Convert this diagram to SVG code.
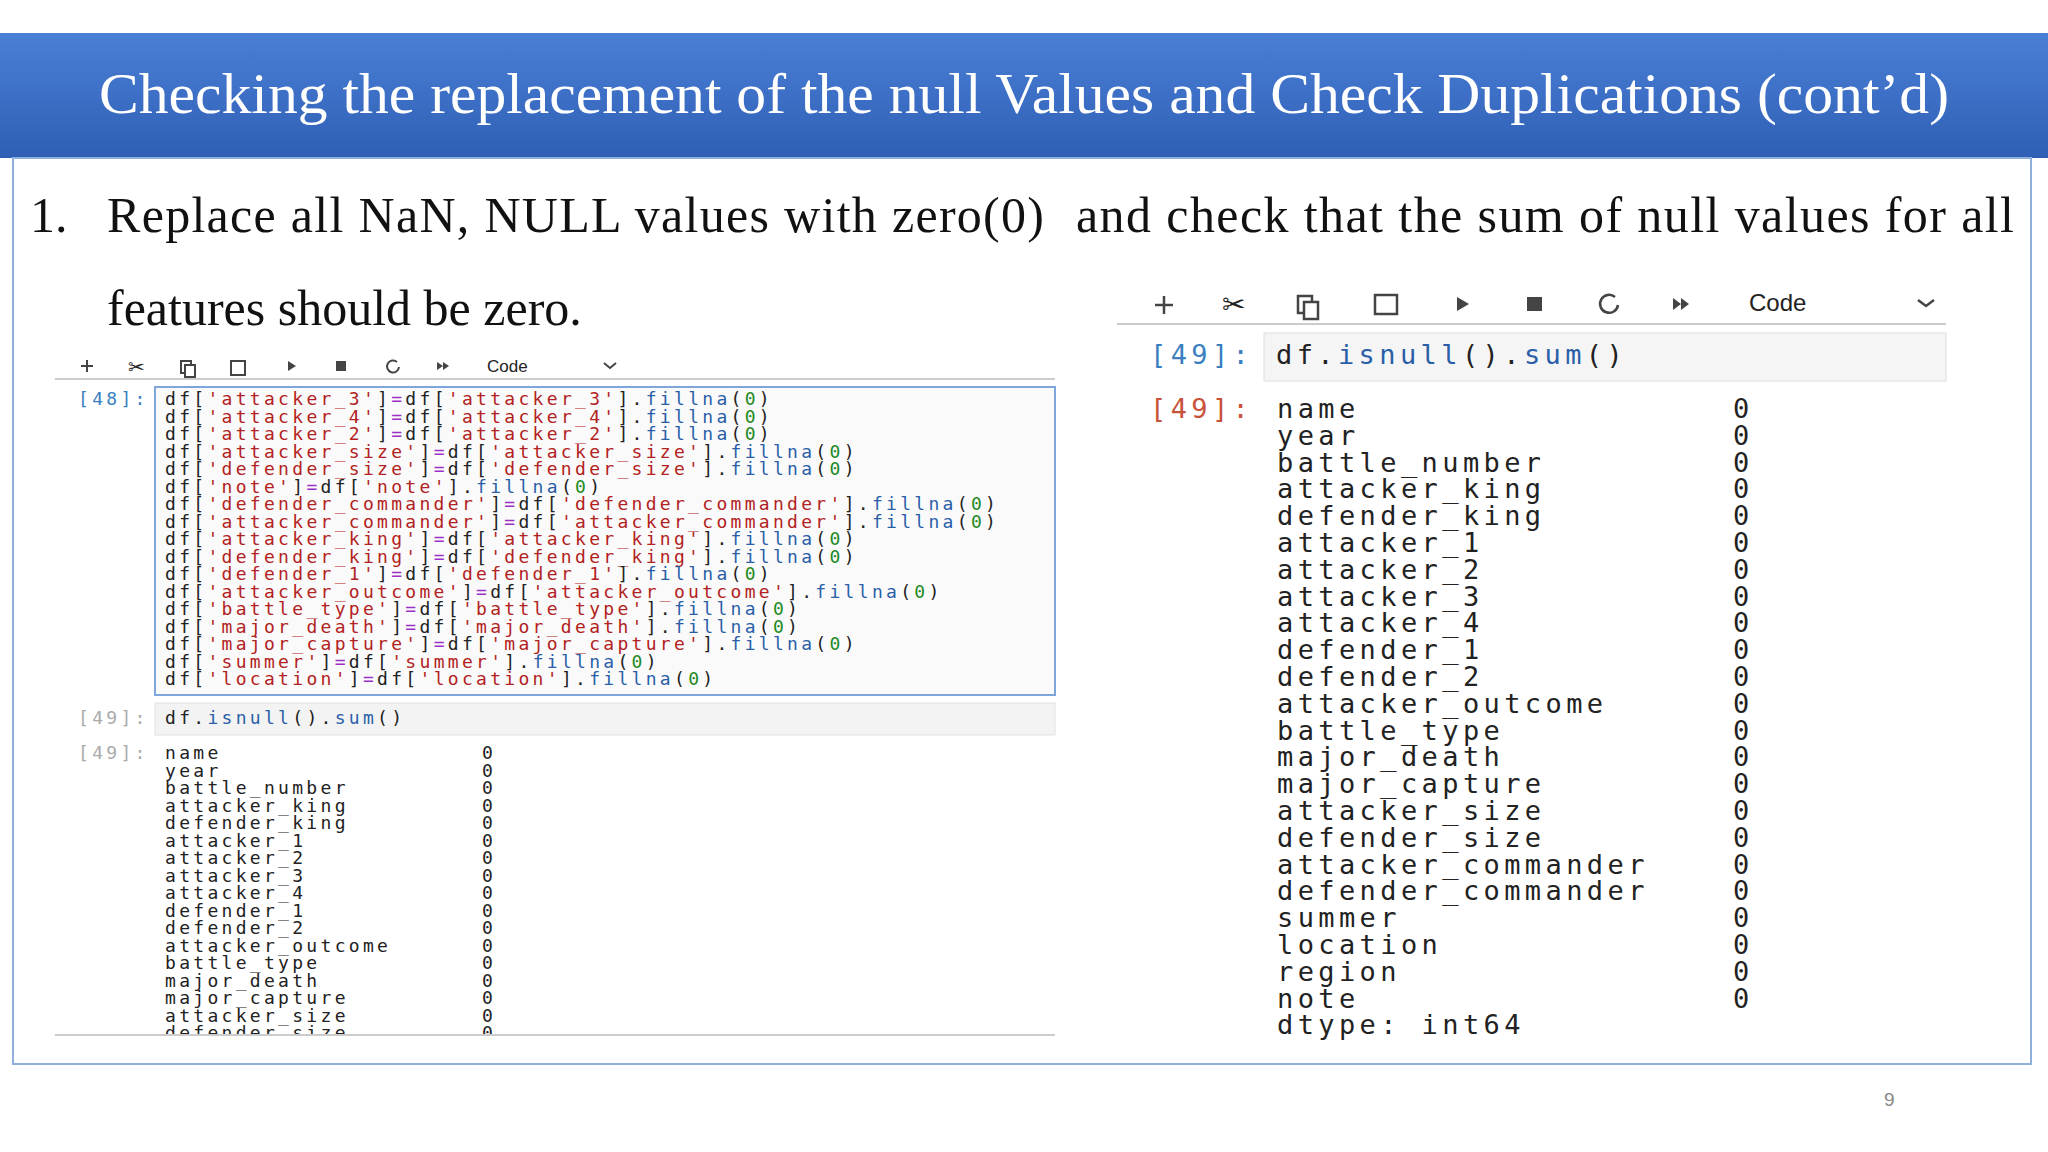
<svg xmlns="http://www.w3.org/2000/svg" width="2048" height="1152" viewBox="0 0 2048 1152">
<defs>
<linearGradient id="hg" x1="0" y1="0" x2="0" y2="1"><stop offset="0" stop-color="#4a7fd6"/><stop offset="1" stop-color="#2f5fb5"/></linearGradient>
<clipPath id="lc"><rect x="55" y="740" width="1000" height="294"/></clipPath>
<style>
.ser{font-family:"Liberation Serif",serif}
.m1{font-family:"DejaVu Sans Mono","Liberation Mono",monospace;font-size:18px;letter-spacing:3.3px;fill:#222}
.m2{font-family:"DejaVu Sans Mono","Liberation Mono",monospace;font-size:27px;letter-spacing:4.4px;fill:#222}
.s{fill:#b22222}.f{fill:#2a5fa8}.z{fill:#1f8a1f}.e{fill:#9b30c8}
.pin{fill:#3a7fc0}.pout{fill:#c8523a}.pg{fill:#aaa}
.ic{fill:#444;stroke:#444}
.tb{font-family:"Liberation Sans",sans-serif;fill:#222}
</style>
</defs>
<rect width="2048" height="1152" fill="#fff"/>
<g id="header">
<rect x="0" y="33" width="2048" height="125" fill="url(#hg)"/>
<text class="ser" x="99" y="113" font-size="56" fill="#fff" textLength="1850" lengthAdjust="spacingAndGlyphs">Checking the replacement of the null Values and Check Duplications (cont’d)</text>
</g>
<rect x="13" y="158" width="2018" height="906" fill="none" stroke="#8fb0dc" stroke-width="2"/>
<g id="body">
<text class="ser" x="30" y="232" font-size="50" fill="#111">1.</text>
<text class="ser" x="107" y="232" font-size="50" fill="#111" textLength="937" lengthAdjust="spacing">Replace all NaN, NULL values with zero(0)</text>
<text class="ser" x="1076" y="232" font-size="50" fill="#111" textLength="938" lengthAdjust="spacing">and check that the sum of null values for all</text>
<text class="ser" x="107" y="325" font-size="50" fill="#111">features should be zero.</text>
</g>
<g id="left">
<g class="ic" stroke-width="2">
<path d="M81 366h12M87 360v12" fill="none"/>
<text class="tb" x="128" y="374" font-size="20" stroke="none">✂</text>
<rect x="181" y="361" width="10" height="12" fill="none"/><rect x="185" y="365" width="10" height="12" fill="#fff"/>
<rect x="231" y="361" width="14" height="14" fill="none"/>
<path d="M288 361l8 5-8 5z" stroke="none"/>
<rect x="336" y="361" width="10" height="10" stroke="none"/>
<path d="M397 362a6 6 0 1 0 2 5" fill="none"/>
<path d="M437 362l6 4-6 4zM443 362l6 4-6 4z" stroke="none"/>
<path d="M604 363l6 5 6-5" fill="none"/>
</g>
<text class="tb" x="487" y="372" font-size="17">Code</text>
<line x1="55" y1="379" x2="1055" y2="379" stroke="#ccc" stroke-width="2"/>
<rect x="155" y="387" width="900" height="308" fill="#fafafa" stroke="#7fa6da" stroke-width="2"/>
<text class="m1 pin" x="78" y="405">[48]:</text>
<text class="m1">
<tspan x="165" y="405">df[<tspan class="s">'attacker_3'</tspan>]<tspan class="e">=</tspan>df[<tspan class="s">'attacker_3'</tspan>].<tspan class="f">fillna</tspan>(<tspan class="z">0</tspan>)</tspan>
<tspan x="165" y="422.5">df[<tspan class="s">'attacker_4'</tspan>]<tspan class="e">=</tspan>df[<tspan class="s">'attacker_4'</tspan>].<tspan class="f">fillna</tspan>(<tspan class="z">0</tspan>)</tspan>
<tspan x="165" y="440">df[<tspan class="s">'attacker_2'</tspan>]<tspan class="e">=</tspan>df[<tspan class="s">'attacker_2'</tspan>].<tspan class="f">fillna</tspan>(<tspan class="z">0</tspan>)</tspan>
<tspan x="165" y="457.5">df[<tspan class="s">'attacker_size'</tspan>]<tspan class="e">=</tspan>df[<tspan class="s">'attacker_size'</tspan>].<tspan class="f">fillna</tspan>(<tspan class="z">0</tspan>)</tspan>
<tspan x="165" y="475">df[<tspan class="s">'defender_size'</tspan>]<tspan class="e">=</tspan>df[<tspan class="s">'defender_size'</tspan>].<tspan class="f">fillna</tspan>(<tspan class="z">0</tspan>)</tspan>
<tspan x="165" y="492.5">df[<tspan class="s">'note'</tspan>]<tspan class="e">=</tspan>df[<tspan class="s">'note'</tspan>].<tspan class="f">fillna</tspan>(<tspan class="z">0</tspan>)</tspan>
<tspan x="165" y="510">df[<tspan class="s">'defender_commander'</tspan>]<tspan class="e">=</tspan>df[<tspan class="s">'defender_commander'</tspan>].<tspan class="f">fillna</tspan>(<tspan class="z">0</tspan>)</tspan>
<tspan x="165" y="527.5">df[<tspan class="s">'attacker_commander'</tspan>]<tspan class="e">=</tspan>df[<tspan class="s">'attacker_commander'</tspan>].<tspan class="f">fillna</tspan>(<tspan class="z">0</tspan>)</tspan>
<tspan x="165" y="545">df[<tspan class="s">'attacker_king'</tspan>]<tspan class="e">=</tspan>df[<tspan class="s">'attacker_king'</tspan>].<tspan class="f">fillna</tspan>(<tspan class="z">0</tspan>)</tspan>
<tspan x="165" y="562.5">df[<tspan class="s">'defender_king'</tspan>]<tspan class="e">=</tspan>df[<tspan class="s">'defender_king'</tspan>].<tspan class="f">fillna</tspan>(<tspan class="z">0</tspan>)</tspan>
<tspan x="165" y="580">df[<tspan class="s">'defender_1'</tspan>]<tspan class="e">=</tspan>df[<tspan class="s">'defender_1'</tspan>].<tspan class="f">fillna</tspan>(<tspan class="z">0</tspan>)</tspan>
<tspan x="165" y="597.5">df[<tspan class="s">'attacker_outcome'</tspan>]<tspan class="e">=</tspan>df[<tspan class="s">'attacker_outcome'</tspan>].<tspan class="f">fillna</tspan>(<tspan class="z">0</tspan>)</tspan>
<tspan x="165" y="615">df[<tspan class="s">'battle_type'</tspan>]<tspan class="e">=</tspan>df[<tspan class="s">'battle_type'</tspan>].<tspan class="f">fillna</tspan>(<tspan class="z">0</tspan>)</tspan>
<tspan x="165" y="632.5">df[<tspan class="s">'major_death'</tspan>]<tspan class="e">=</tspan>df[<tspan class="s">'major_death'</tspan>].<tspan class="f">fillna</tspan>(<tspan class="z">0</tspan>)</tspan>
<tspan x="165" y="650">df[<tspan class="s">'major_capture'</tspan>]<tspan class="e">=</tspan>df[<tspan class="s">'major_capture'</tspan>].<tspan class="f">fillna</tspan>(<tspan class="z">0</tspan>)</tspan>
<tspan x="165" y="667.5">df[<tspan class="s">'summer'</tspan>]<tspan class="e">=</tspan>df[<tspan class="s">'summer'</tspan>].<tspan class="f">fillna</tspan>(<tspan class="z">0</tspan>)</tspan>
<tspan x="165" y="685">df[<tspan class="s">'location'</tspan>]<tspan class="e">=</tspan>df[<tspan class="s">'location'</tspan>].<tspan class="f">fillna</tspan>(<tspan class="z">0</tspan>)</tspan>
</text>
<rect x="155" y="703" width="900" height="32" fill="#f3f3f3" stroke="#e2e2e2"/>
<text class="m1 pg" x="78" y="724">[49]:</text>
<text class="m1" x="165" y="724">df.<tspan class="f">isnull</tspan>().<tspan class="f">sum</tspan>()</text>
<text class="m1 pg" x="78" y="759">[49]:</text>
<text class="m1" clip-path="url(#lc)">
<tspan x="165" y="759">name</tspan><tspan x="165" y="776.5">year</tspan><tspan x="165" y="794">battle_number</tspan><tspan x="165" y="811.5">attacker_king</tspan><tspan x="165" y="829">defender_king</tspan><tspan x="165" y="846.5">attacker_1</tspan><tspan x="165" y="864">attacker_2</tspan><tspan x="165" y="881.5">attacker_3</tspan><tspan x="165" y="899">attacker_4</tspan><tspan x="165" y="916.5">defender_1</tspan><tspan x="165" y="934">defender_2</tspan><tspan x="165" y="951.5">attacker_outcome</tspan><tspan x="165" y="969">battle_type</tspan><tspan x="165" y="986.5">major_death</tspan><tspan x="165" y="1004">major_capture</tspan><tspan x="165" y="1021.5">attacker_size</tspan><tspan x="165" y="1039">defender_size</tspan>
<tspan x="482" y="759">0</tspan><tspan x="482" y="776.5">0</tspan><tspan x="482" y="794">0</tspan><tspan x="482" y="811.5">0</tspan><tspan x="482" y="829">0</tspan><tspan x="482" y="846.5">0</tspan><tspan x="482" y="864">0</tspan><tspan x="482" y="881.5">0</tspan><tspan x="482" y="899">0</tspan><tspan x="482" y="916.5">0</tspan><tspan x="482" y="934">0</tspan><tspan x="482" y="951.5">0</tspan><tspan x="482" y="969">0</tspan><tspan x="482" y="986.5">0</tspan><tspan x="482" y="1004">0</tspan><tspan x="482" y="1021.5">0</tspan><tspan x="482" y="1039">0</tspan>
</text>
<line x1="55" y1="1035" x2="1055" y2="1035" stroke="#ccc" stroke-width="2"/>
</g>
<g id="right">
<g class="ic" stroke-width="2.5">
<path d="M1155 305h18M1164 296v18" fill="none"/>
<text class="tb" x="1222" y="314" font-size="28" stroke="none">✂</text>
<rect x="1298" y="296" width="14" height="17" fill="none"/><rect x="1304" y="302" width="14" height="17" fill="#fff"/>
<rect x="1375" y="295" width="22" height="19" fill="none"/>
<path d="M1457 297l12 7-12 7z" stroke="none"/>
<rect x="1527" y="297" width="15" height="14" stroke="none"/>
<path d="M1615 297a9 9 0 1 0 3 8" fill="none"/>
<path d="M1673 298l8 6-8 6zM1681 298l8 6-8 6z" stroke="none"/>
<path d="M1918 300l8 6 8-6" fill="none"/>
</g>
<text class="tb" x="1749" y="311" font-size="24">Code</text>
<line x1="1117" y1="324" x2="1946" y2="324" stroke="#ccc" stroke-width="2"/>
<rect x="1264" y="333" width="682" height="48" fill="#f5f5f5" stroke="#ddd"/>
<text class="m2 pin" x="1150" y="364">[49]:</text>
<text class="m2" x="1276" y="364">df.<tspan class="f">isnull</tspan>().<tspan class="f">sum</tspan>()</text>
<text class="m2 pout" x="1150" y="418">[49]:</text>
<text class="m2">
<tspan x="1277" y="418">name</tspan><tspan x="1277" y="444.8">year</tspan><tspan x="1277" y="471.6">battle_number</tspan><tspan x="1277" y="498.4">attacker_king</tspan><tspan x="1277" y="525.2">defender_king</tspan><tspan x="1277" y="552">attacker_1</tspan><tspan x="1277" y="578.8">attacker_2</tspan><tspan x="1277" y="605.6">attacker_3</tspan><tspan x="1277" y="632.4">attacker_4</tspan><tspan x="1277" y="659.2">defender_1</tspan><tspan x="1277" y="686">defender_2</tspan><tspan x="1277" y="712.8">attacker_outcome</tspan><tspan x="1277" y="739.6">battle_type</tspan><tspan x="1277" y="766.4">major_death</tspan><tspan x="1277" y="793.2">major_capture</tspan><tspan x="1277" y="820">attacker_size</tspan><tspan x="1277" y="846.8">defender_size</tspan><tspan x="1277" y="873.6">attacker_commander</tspan><tspan x="1277" y="900.4">defender_commander</tspan><tspan x="1277" y="927.2">summer</tspan><tspan x="1277" y="954">location</tspan><tspan x="1277" y="980.8">region</tspan><tspan x="1277" y="1007.6">note</tspan><tspan x="1277" y="1034.4">dtype:  int64</tspan>
<tspan x="1733" y="418">0</tspan><tspan x="1733" y="444.8">0</tspan><tspan x="1733" y="471.6">0</tspan><tspan x="1733" y="498.4">0</tspan><tspan x="1733" y="525.2">0</tspan><tspan x="1733" y="552">0</tspan><tspan x="1733" y="578.8">0</tspan><tspan x="1733" y="605.6">0</tspan><tspan x="1733" y="632.4">0</tspan><tspan x="1733" y="659.2">0</tspan><tspan x="1733" y="686">0</tspan><tspan x="1733" y="712.8">0</tspan><tspan x="1733" y="739.6">0</tspan><tspan x="1733" y="766.4">0</tspan><tspan x="1733" y="793.2">0</tspan><tspan x="1733" y="820">0</tspan><tspan x="1733" y="846.8">0</tspan><tspan x="1733" y="873.6">0</tspan><tspan x="1733" y="900.4">0</tspan><tspan x="1733" y="927.2">0</tspan><tspan x="1733" y="954">0</tspan><tspan x="1733" y="980.8">0</tspan><tspan x="1733" y="1007.6">0</tspan>
</text>
</g>
<text x="1884" y="1106" font-family="Liberation Sans,sans-serif" font-size="19" fill="#888">9</text>
</svg>
